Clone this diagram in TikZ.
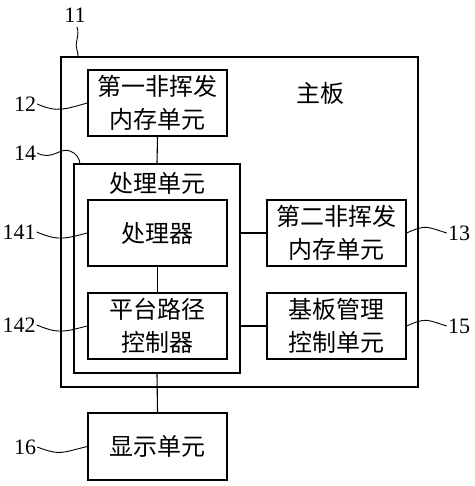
\documentclass[tikz,border=0pt]{standalone}
\usepackage{fontspec}
\newfontfamily\cjk{Noto Sans CJK SC}
\setmainfont{Liberation Serif}
\begin{document}
\begin{tikzpicture}[x=1pt,y=-1pt,
  box/.style={draw,line width=1.3pt,minimum width=139pt,minimum height=66pt,inner sep=0pt,align=center,font=\cjk\fontsize{24}{33}\selectfont},
  num/.style={font=\fontsize{22}{22}\selectfont,inner sep=1pt},
  lead/.style={line width=0.9pt},
  conn/.style={line width=1.1pt}]
\useasboundingbox (0,0) rectangle (474,486);
\node[draw,line width=1.5pt,minimum width=357pt,minimum height=330pt,inner sep=0pt] (board) at (239.5,222) {};
\node[font=\cjk\fontsize{24}{24}\selectfont] (boardt) at (320,93) {主板};
\node[box] (m12) at (157.5,103) {第一非挥发\\内存单元};
\node[draw,line width=1.3pt,minimum width=166pt,minimum height=209pt,inner sep=0pt] (pu) at (157,268.5) {};
\node[font=\cjk\fontsize{24}{24}\selectfont] (put) at (157,183) {处理单元};
\node[box] (p141) at (157.5,233) {处理器};
\node[box] (p142) at (157.5,326) {平台路径\\控制器};
\node[box] (m13) at (336.5,233) {第二非挥发\\内存单元};
\node[box] (b15) at (336.5,326) {基板管理\\控制单元};
\node[box,minimum height=67pt] (d16) at (157.5,446.5) {显示单元};

\draw[conn] (m12.south) -- (pu.north);
\draw[conn] (p141.south) -- (p142.north);
\draw[conn] (m13.west) -- (m13.west -| pu.east);
\draw[conn] (b15.west) -- (b15.west -| pu.east);
\draw[conn] (pu.south) -- (d16.north);

\node[num] (l11) at (75,15) {11};
\node[num] (l12) at (25,104) {12};
\node[num] (l14) at (25,153) {14};
\node[num] (l141) at (19,232) {141};
\node[num] (l142) at (19,325) {142};
\node[num] (l13) at (459,233) {13};
\node[num] (l15) at (459,326) {15};
\node[num] (l16) at (25,447) {16};

\coordinate (c11) at (78,57);
\coordinate (c14) at (80,164);
\draw[lead] (77,27) .. controls (80,36) and (74,44) .. (77,50) .. controls (78,53) and (78,55) .. (c11);
\draw[lead] (l12.east) .. controls +(20,9) and +(-22,6) .. (m12.west);
\draw[lead] (l14.east) .. controls +(15,8) and +(-10,-4) .. (70,151) .. controls +(6,2) and +(0,-5) .. (c14);
\draw[lead] (l141.east) .. controls +(22,9) and +(-24,6) .. (p141.west);
\draw[lead] (l142.east) .. controls +(22,9) and +(-24,6) .. (p142.west);
\draw[lead] (m13.east) .. controls +(20,-9) and +(-20,-6) .. (l13.west);
\draw[lead] (b15.east) .. controls +(20,-9) and +(-20,-6) .. (l15.west);
\draw[lead] (l16.east) .. controls +(24,9) and +(-26,6) .. (d16.west);
\end{tikzpicture}
\end{document}
